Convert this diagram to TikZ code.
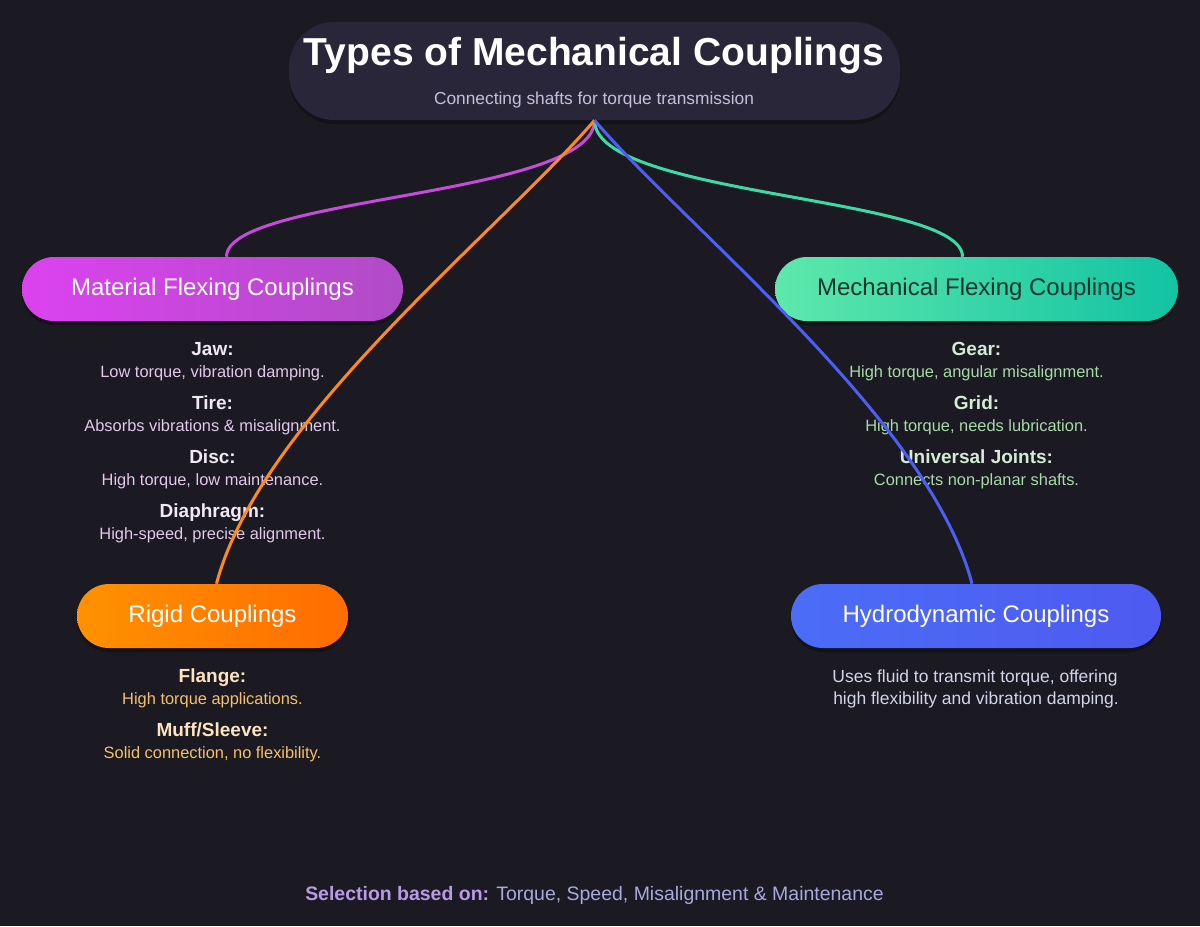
\documentclass[tikz,border=0pt]{standalone}
\usepackage{fontspec}
\setmainfont{Liberation Sans}
\usetikzlibrary{calc,shadows}

\definecolor{bg}{HTML}{1B1A22}
\definecolor{headfill}{HTML}{2A2639}
\definecolor{subtext}{HTML}{C6BEDC}
\definecolor{matL}{HTML}{DC42F0}
\definecolor{matR}{HTML}{B04CC6}
\definecolor{mecL}{HTML}{5EE8AC}
\definecolor{mecR}{HTML}{12C3A3}
\definecolor{rigL}{HTML}{FF9200}
\definecolor{rigR}{HTML}{FF6C00}
\definecolor{hydL}{HTML}{4B6DF7}
\definecolor{hydR}{HTML}{4E5AF0}
\definecolor{matline}{HTML}{C54BDB}
\definecolor{mecline}{HTML}{3DDBA4}
\definecolor{rigline}{HTML}{FF8A1C}
\definecolor{hydline}{HTML}{4D5EF3}
\definecolor{mathead}{HTML}{F0E8F4}
\definecolor{mattext}{HTML}{E2C8EA}
\definecolor{mechead}{HTML}{D4ECD6}
\definecolor{mectext}{HTML}{A8DAA8}
\definecolor{mecdark}{HTML}{12352C}
\definecolor{righead}{HTML}{FDE3BF}
\definecolor{rigtext}{HTML}{F5C06A}
\definecolor{hydtext}{HTML}{D2D4EA}
\definecolor{selbold}{HTML}{B79BE6}
\definecolor{seltext}{HTML}{A7A9DC}

\tikzset{
  pill/.style={rounded corners=24pt, minimum height=48pt, inner xsep=0pt,
    text=white, font=\fontsize{18}{22}\selectfont,
    drop shadow={shadow xshift=0pt, shadow yshift=-3pt, opacity=.3, fill=black}},
  headbox/.style={fill=headfill, rounded corners=34pt, minimum width=458.25pt,
    minimum height=73.5pt,
    drop shadow={shadow xshift=0pt, shadow yshift=-3pt, opacity=.3, fill=black}},
  link/.style={line width=2.25pt},
  itemhead/.style={anchor=base, inner sep=0pt, font=\bfseries\fontsize{14.25}{17}\selectfont},
  itemtext/.style={anchor=base, inner sep=0pt, font=\fontsize{12.3}{15}\selectfont},
}

\begin{document}
\begin{tikzpicture}[x=0.75pt,y=-0.75pt]
  \fill[bg] (0,0) rectangle (1200,926);
  \useasboundingbox (0,0) rectangle (1200,926);

  % title
  \node[headbox] (head) at (594.5,71) {};
  \node[anchor=base, inner sep=0pt, text=white, font=\bfseries\fontsize{29.25}{34}\selectfont] (ttl) at (594,65) {Types of Mechanical Couplings};
  \node[anchor=base, inner sep=0pt, text=subtext, font=\fontsize{13}{16}\selectfont] (sub) at (594,104) {Connecting shafts for torque transmission};

  % categories
  \node[pill, left color=matL, right color=matR, minimum width=285.75pt] (mat) at (212.5,289) {Material Flexing Couplings};
  \node[pill, left color=mecL, right color=mecR, minimum width=302.25pt, text=mecdark] (mec) at (976.5,289) {Mechanical Flexing Couplings};
  \node[pill, left color=rigL, right color=rigR, minimum width=203.25pt] (rig) at (212.5,616) {Rigid Couplings};
  \node[pill, left color=hydL, right color=hydR, minimum width=277.5pt] (hyd) at (976,616) {Hydrodynamic Couplings};

  % types
  \foreach \hd/\tx [count=\i] in {Jaw:/{Low torque, vibration damping.},
      Tire:/{Absorbs vibrations \& misalignment.},
      Disc:/{High torque, low maintenance.},
      Diaphragm:/{High-speed, precise alignment.}}{
    \node[itemhead, text=mathead] (mat-h\i) at (212.5, 301+54*\i) {\hd};
    \node[itemtext, text=mattext] (mat-t\i) at (212.5, 323+54*\i) {\tx};
  }
  \foreach \hd/\tx [count=\i] in {Gear:/{High torque, angular misalignment.},
      Grid:/{High torque, needs lubrication.},
      Universal Joints:/{Connects non-planar shafts.}}{
    \node[itemhead, text=mechead] (mec-h\i) at (976.5, 301+54*\i) {\hd};
    \node[itemtext, text=mectext] (mec-t\i) at (976.5, 323+54*\i) {\tx};
  }
  \foreach \hd/\tx [count=\i] in {Flange:/{High torque applications.},
      {Muff/Sleeve:}/{Solid connection, no flexibility.}}{
    \node[itemhead, text=righead] (rig-h\i) at (212.5, 628+54*\i) {\hd};
    \node[itemtext, text=rigtext] (rig-t\i) at (212.5, 650+54*\i) {\tx};
  }
  \node[itemtext, text=hydtext, font=\fontsize{13.1}{16}\selectfont] (hyd-t1) at (975,682) {Uses fluid to transmit torque, offering};
  \node[itemtext, text=hydtext, font=\fontsize{13.1}{16}\selectfont] (hyd-t2) at (976,704) {high flexibility and vibration damping.};

  % footer
  \node[anchor=base, inner sep=0pt, text=seltext, font=\fontsize{14.6}{17}\selectfont] (sel) at (594.5,900)
    {\textcolor{selbold}{\bfseries Selection based on:} Torque, Speed, Misalignment \& Maintenance};

  % links
  \draw[link, draw=matline] (head.south) .. controls +(0,77) and +(0,-61) .. ($(mat.north)+(14,0)$);
  \draw[link, draw=mecline] (head.south) .. controls +(0,77) and +(0,-61) .. ($(mec.north)+(-14,0)$);
  \draw[link, draw=rigline] (head.south) .. controls +(-94,110) and +(43,-164) .. ($(rig.north)+(4,0)$);
  \draw[link, draw=hydline] (head.south) .. controls +(94,110) and +(-43,-164) .. ($(hyd.north)+(-4,0)$);
\end{tikzpicture}
\end{document}
